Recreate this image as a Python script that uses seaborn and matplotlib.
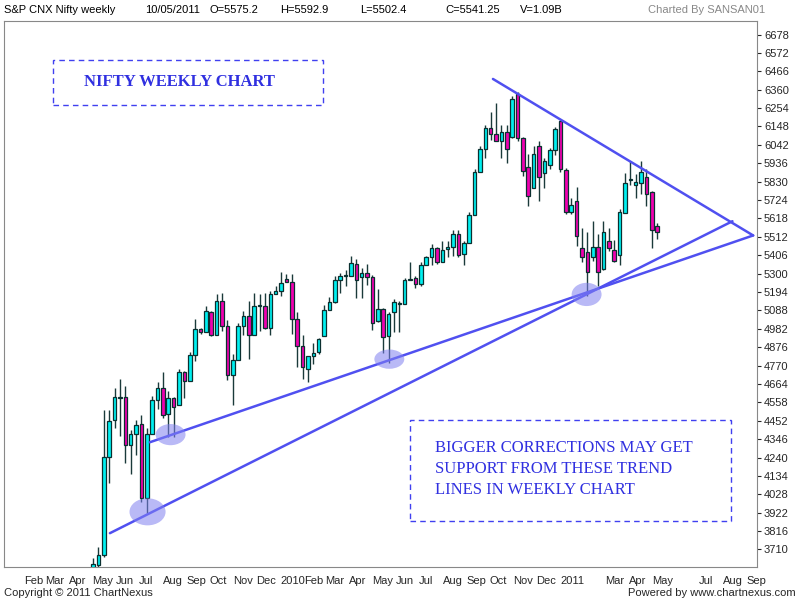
import numpy as np
import pandas as pd
import matplotlib
matplotlib.use("Agg")
import matplotlib.pyplot as plt
import matplotlib.dates as mdates
from matplotlib.patches import Ellipse, FancyBboxPatch
import seaborn as sns

# weekly OHLC
opens = [3602, 3621, 3677, 4243, 4456, 4584, 4588, 4313, 4373, 4432,
         4007, 4376, 4573, 4638, 4488, 4581, 4540, 4733, 4683, 4833,
         4980, 4963, 5078, 4944, 5145, 4998, 4716, 4800, 5000, 5056,
         4944, 5115, 5115, 4985, 5184, 5199, 5267, 5254, 5037, 4883,
         4753, 4827, 4849, 4938, 5092, 5137, 5263, 5286, 5289, 5356,
         5278, 5304, 5278, 5026, 5096, 4942, 5078, 5133, 5122, 5263,
         5273, 5241, 5352, 5393, 5445, 5365, 5440, 5453, 5527, 5412,
         5477, 5639, 5886, 6021, 6142, 6103, 6066, 6114, 6090, 6337,
         6080, 5917, 5793, 6038, 5880, 5928, 6010, 6177, 5900, 5653,
         5718, 5449, 5427, 5394, 5455, 5327, 5490, 5434, 5408, 5648,
         5839, 5809, 5824, 5858, 5770, 5575]
highs = [3658, 3723, 4512, 4512, 4642, 4694, 4655, 4401, 4456, 4484,
         4410, 4595, 4673, 4735, 4623, 4586, 4748, 4738, 4846, 5041,
         4985, 5115, 5087, 5184, 5189, 5032, 4837, 5013, 5084, 5143,
         5189, 5180, 5189, 5199, 5227, 5310, 5297, 5297, 5078, 4948,
         4827, 4901, 4929, 5118, 5167, 5286, 5304, 5319, 5402, 5384,
         5334, 5356, 5291, 5211, 5100, 5078, 5152, 5141, 5273, 5365,
         5286, 5365, 5402, 5471, 5453, 5490, 5486, 5551, 5551, 5486,
         5653, 5904, 6034, 6155, 6229, 6285, 6155, 6155, 6322, 6349,
         6090, 5988, 6034, 6062, 5969, 6025, 6145, 6188, 5908, 5737,
         5802, 5561, 5542, 5603, 5529, 5601, 5561, 5496, 5672, 5880,
         5950, 5876, 5947, 5904, 5774, 5593]
lows = [3593, 3602, 3667, 4094, 4410, 4363, 4206, 4146, 4252, 3983,
        3918, 4373, 4521, 4466, 4358, 4358, 4540, 4581, 4683, 4796,
        4952, 4963, 4939, 4944, 4970, 4688, 4543, 4800, 4948, 4809,
        4944, 4967, 4982, 4944, 5184, 5171, 5251, 4952, 4762, 4692,
        4673, 4781, 4836, 4938, 5092, 5130, 5189, 5230, 5289, 5161,
        5161, 5235, 4976, 5022, 4840, 4784, 4966, 4963, 5122, 5263,
        5217, 5230, 5352, 5352, 5356, 5365, 5393, 5402, 5393, 5352,
        5477, 5639, 5886, 5969, 6071, 6062, 5969, 5936, 6080, 6062,
        5861, 5691, 5793, 5718, 5793, 5904, 5984, 5886, 5644, 5644,
        5459, 5366, 5171, 5375, 5230, 5323, 5431, 5366, 5347, 5648,
        5811, 5737, 5761, 5691, 5446, 5502]
closes = [3625, 3677, 4243, 4451, 4588, 4584, 4313, 4373, 4427, 4007,
          4376, 4573, 4638, 4484, 4581, 4534, 4733, 4683, 4833, 4980,
          4963, 5084, 4944, 5145, 4998, 4716, 4800, 5000, 5056, 4944,
          5111, 5115, 4989, 5180, 5199, 5245, 5251, 5037, 4883, 4762,
          4827, 4842, 4924, 5091, 5139, 5263, 5286, 5286, 5362, 5263,
          5306, 5278, 5016, 5096, 4933, 5068, 5139, 5122, 5263, 5263,
          5241, 5352, 5393, 5449, 5365, 5436, 5453, 5527, 5408, 5477,
          5638, 5886, 6021, 6142, 6103, 6066, 6114, 6021, 6309, 6080,
          5891, 5750, 5991, 5858, 5947, 6010, 6136, 5904, 5657, 5694,
          5514, 5394, 5312, 5455, 5308, 5538, 5446, 5371, 5653, 5824,
          5839, 5826, 5886, 5756, 5551, 5541]
weeks = pd.date_range("2009-05-06", periods=len(opens), freq="7D")

y_ticks = list(range(3710, 6679, 106))
month_ticks = pd.date_range("2009-02-01", "2011-09-01", freq="MS")
skip = {pd.Timestamp("2011-02-01"), pd.Timestamp("2011-06-01")}

# trend lines and highlight spots
trend_lines = [
    (("2009-05-28", 3804), ("2011-08-17", 5602)),
    (("2009-07-19", 4328), ("2011-09-13", 5520)),
    (("2010-10-09", 6422), ("2011-09-13", 5520)),
]
spots = [("2009-07-16", 3927, 47, 156), ("2009-08-15", 4372, 39, 122),
         ("2010-05-27", 4807, 39, 111), ("2011-02-08", 5180, 39, 134)]

sns.set_style("white")
plt.rcParams["font.family"] = ["Liberation Sans", "DejaVu Sans"]

fig = plt.figure(figsize=(8, 6), dpi=100)
ax = fig.add_axes([4 / 800, 1 - 567 / 600, 753 / 800, 546 / 600])

df = pd.DataFrame({"date": weeks, "o": opens, "h": highs, "l": lows, "c": closes})
df["up"] = df["c"] >= df["o"]
wick = "#1a3a3a"
ax.vlines(df["date"], df["l"], df["h"], color=wick, lw=1, zorder=2)
body_col = np.where(df["up"], "#00f0f0", "#f000b0")
bottom = np.minimum(df["o"], df["c"])
height = np.maximum(np.abs(df["c"] - df["o"]), 6)
ax.bar(df["date"], height, bottom=bottom, width=4.6, color=body_col,
       edgecolor="#0b3030", linewidth=0.9, zorder=3)

for (d0, p0), (d1, p1) in trend_lines:
    ax.plot([pd.Timestamp(d0), pd.Timestamp(d1)], [p0, p1], color="#5050f0",
            lw=1.8, zorder=4)
for d, p, w, h in spots:
    ax.add_patch(Ellipse((mdates.date2num(pd.Timestamp(d)), p), w, h,
                         color="#8080f0", alpha=0.55, lw=0, zorder=5))

ax.set_xlim(pd.Timestamp("2009-01-10"), pd.Timestamp("2011-09-18"))
ax.set_ylim(3609, 6756)
ax.yaxis.tick_right()
ax.set_yticks(y_ticks)
ax.set_yticklabels([str(t) for t in y_ticks], fontsize=8)
ax.tick_params(axis="y", length=3, pad=2)
ax.set_xticks(month_ticks)
ax.set_xticklabels([])
ax.tick_params(axis="x", length=12, direction="out", color="#555555")
for m in month_ticks:
    if m in skip:
        continue
    lab = str(m.year) if m.month == 1 else m.strftime("%b")
    ax.annotate(lab, (mdates.date2num(m), 0), xycoords=("data", "axes fraction"),
                xytext=(2, -10), textcoords="offset points", fontsize=8,
                ha="left", va="center")
for s in ax.spines.values():
    s.set_color("#888888")
    s.set_linewidth(0.8)

# header / footer
hdr = [(4, "S&P CNX Nifty weekly", "black"), (145, "10/05/2011", "black"),
       (210, "O=5575.2", "black"), (280, "H=5592.9", "black"),
       (360, "L=5502.4", "black"), (445, "C=5541.25", "black"),
       (520, "V=1.09B", "black"), (648, "Charted By SANSAN01", "#888888")]
for x, t, c in hdr:
    fig.text(x / 800, 1 - 10 / 600, t, fontsize=8, color=c, va="center")
fig.text(4 / 800, 1 - 593 / 600, "Copyright \u00a9 2011 ChartNexus", fontsize=8, va="center")
fig.text(796 / 800, 1 - 593 / 600, "Powered by www.chartnexus.com", fontsize=8,
         va="center", ha="right")

# annotation boxes
for (x0, y0, x1, y1) in [(53, 60, 323, 105), (410, 420, 731, 521)]:
    fig.patches.append(FancyBboxPatch((x0 / 800, 1 - y1 / 600), (x1 - x0) / 800,
                                      (y1 - y0) / 600, boxstyle="square,pad=0",
                                      fill=False, ec="#4040f0", ls=(0, (4, 3)),
                                      lw=1, transform=fig.transFigure))
serif = ["Liberation Serif", "DejaVu Serif"]
fig.text(180 / 800, 1 - 82 / 600, "NIFTY WEEKLY CHART", family=serif, fontsize=12,
         fontweight="bold", color="#3030e0", ha="center", va="center")
fig.text(435 / 800, 1 - 469 / 600,
         "BIGGER CORRECTIONS MAY GET\nSUPPORT FROM THESE TREND\nLINES IN WEEKLY CHART",
         family=serif, fontsize=12, color="#3030e0", va="center", linespacing=1.4)

fig.savefig("out.png", dpi=100)
